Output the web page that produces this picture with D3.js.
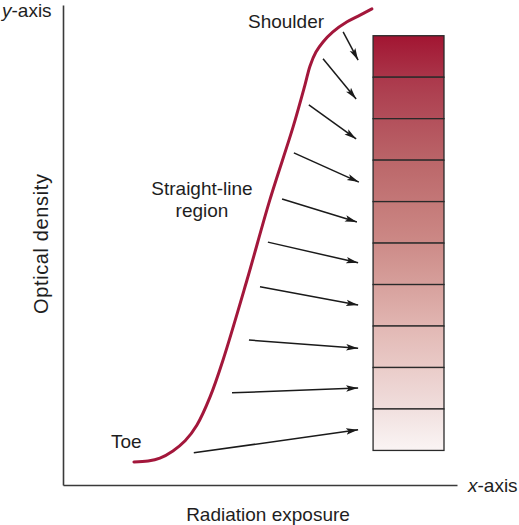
<!DOCTYPE html>
<html>
<head>
<meta charset="utf-8">
<script src="https://cdn.jsdelivr.net/npm/d3@7/dist/d3.min.js"></script>
<style>
  html, body { margin: 0; padding: 0; background: #fff; }
  svg { display: block; }
  text { font-family: "Liberation Sans", Arial, Helvetica, sans-serif; fill: #1e1e1e; }
</style>
</head>
<body>
<script>
// ---- Data (in plot units: exposure 0-100, density 0-100) ----
const curveExposure = [18.0, 21.6, 24.6, 27.9, 31.0, 34.0, 37.3, 40.6, 46.7, 52.5, 58.4, 61.4, 62.7, 64.2, 66.0, 68.5, 72.1, 75.4, 78.4];
const curveDensity  = [4.8, 5.0, 5.6, 7.1, 9.2, 12.5, 18.3, 26.0, 42.7, 59.4, 74.6, 83.3, 87.3, 90.2, 92.3, 94.4, 96.5, 97.9, 99.2];

const arrowStartX = [71.1, 66.0, 62.4, 58.6, 55.6, 52.0, 50.0, 47.2, 42.9, 33.2];
const arrowStartY = [94.4, 88.8, 79.2, 69.2, 59.6, 50.6, 41.3, 30.2, 19.2, 6.7];
const arrowEndX   = [74.9, 74.4, 74.4, 75.1, 74.6, 74.9, 74.9, 74.9, 74.9, 74.9];
const arrowEndY   = [88.5, 80.4, 72.1, 63.1, 54.8, 46.3, 37.5, 28.5, 20.2, 11.5];

// density steps of the film strip, darkest (top) to lightest (bottom), 1 = darkest
const stripSteps  = [1.0, 0.9, 0.8, 0.7, 0.6, 0.5, 0.4, 0.3, 0.2, 0.1];
const stripExposure = [78.7, 96.7];
const stripDensity  = [7.2, 93.6];

const labels = {
  shoulder: "Shoulder",
  straight: ["Straight-line", "region"],
  toe: "Toe",
  yTitle: "Optical density",
  xTitle: "Radiation exposure"
};

// ---- Drawing ----
const W = 519, H = 525;
const svg = d3.select("body").append("svg").attr("width", W).attr("height", H);

const x = d3.scaleLinear().domain([0, 100]).range([63, 457]);
const y = d3.scaleLinear().domain([0, 100]).range([485, 5]);

// axes (no ticks)
const axisColor = "#3a3a3a";
svg.append("g").attr("transform", `translate(0,${y(0)})`)
  .call(d3.axisBottom(x).tickValues([]).tickSizeOuter(0))
  .call(g => g.select(".domain").attr("stroke", axisColor).attr("stroke-width", 1.6));
svg.append("g").attr("transform", `translate(${x(0)},0)`)
  .call(d3.axisLeft(y).tickValues([]).tickSizeOuter(0))
  .call(g => g.select(".domain").attr("stroke", axisColor).attr("stroke-width", 1.6));

// strip colour scale
const shade = d3.scaleLinear()
  .domain([0, 0.1, 0.3, 0.5, 0.7, 0.9, 1.0])
  .range(["#fefbfb", "#f2e4e3", "#e4bcb8", "#cf8f8b", "#bc6a6c", "#ad3f50", "#a41c37"])
  .interpolate(d3.interpolateRgb);

const defs = svg.append("defs");
stripSteps.forEach((s, i) => {
  const g = defs.append("linearGradient").attr("id", "cell" + i)
    .attr("x1", 0).attr("y1", 0).attr("x2", 0).attr("y2", 1);
  g.append("stop").attr("offset", "0%").attr("stop-color", shade(s + 0.02));
  g.append("stop").attr("offset", "100%").attr("stop-color", shade(s - 0.07));
});

const band = d3.scaleBand().domain(d3.range(stripSteps.length))
  .range([y(stripDensity[1]), y(stripDensity[0])]).padding(0);

svg.append("g").selectAll("rect").data(stripSteps).join("rect")
  .attr("x", x(stripExposure[0]))
  .attr("y", (d, i) => band(i))
  .attr("width", x(stripExposure[1]) - x(stripExposure[0]))
  .attr("height", band.bandwidth())
  .attr("fill", (d, i) => `url(#cell${i})`)
  .attr("stroke", "#2a2a2a")
  .attr("stroke-width", 1.3);

// arrows
defs.append("marker").attr("id", "arrowhead")
  .attr("viewBox", "0 0 12 8").attr("refX", 12).attr("refY", 4)
  .attr("markerWidth", 12).attr("markerHeight", 8)
  .attr("markerUnits", "userSpaceOnUse").attr("orient", "auto")
  .append("path").attr("d", "M0,0.8 L12,4 L0,7.2 L2.5,4 Z").attr("fill", "#1a1a1a");

svg.append("g").selectAll("line").data(arrowStartX).join("line")
  .attr("x1", (d, i) => x(arrowStartX[i]))
  .attr("y1", (d, i) => y(arrowStartY[i]))
  .attr("x2", (d, i) => x(arrowEndX[i]))
  .attr("y2", (d, i) => y(arrowEndY[i]))
  .attr("stroke", "#1a1a1a").attr("stroke-width", 1.5)
  .attr("marker-end", "url(#arrowhead)");

// characteristic curve
const pts = curveExposure.map((e, i) => [e, curveDensity[i]]);
svg.append("path").datum(pts)
  .attr("d", d3.line().x(d => x(d[0])).y(d => y(d[1])).curve(d3.curveCatmullRom.alpha(0.5)))
  .attr("fill", "none").attr("stroke", "#a3173b").attr("stroke-width", 3)
  .attr("stroke-linecap", "round");

// labels
const fs = 19;
const yt = svg.append("text").attr("x", 2).attr("y", 17).attr("font-size", fs);
yt.append("tspan").attr("font-style", "italic").text("y");
yt.append("tspan").text("-axis");

const xt = svg.append("text").attr("x", 468).attr("y", 492).attr("font-size", fs);
xt.append("tspan").attr("font-style", "italic").text("x");
xt.append("tspan").text("-axis");

svg.append("text").attr("x", 248).attr("y", 28).attr("font-size", fs).text(labels.shoulder);
svg.append("text").attr("x", 202).attr("y", 195).attr("font-size", fs)
  .attr("text-anchor", "middle").text(labels.straight[0]);
svg.append("text").attr("x", 202).attr("y", 217).attr("font-size", fs)
  .attr("text-anchor", "middle").text(labels.straight[1]);
svg.append("text").attr("x", 111).attr("y", 448).attr("font-size", fs).text(labels.toe);

svg.append("text")
  .attr("transform", "translate(48,244) rotate(-90)")
  .attr("text-anchor", "middle").attr("font-size", 20)
  .attr("textLength", 140).attr("lengthAdjust", "spacing")
  .text(labels.yTitle);

svg.append("text").attr("x", 268).attr("y", 521).attr("font-size", fs)
  .attr("text-anchor", "middle").text(labels.xTitle);
</script>
</body>
</html>
